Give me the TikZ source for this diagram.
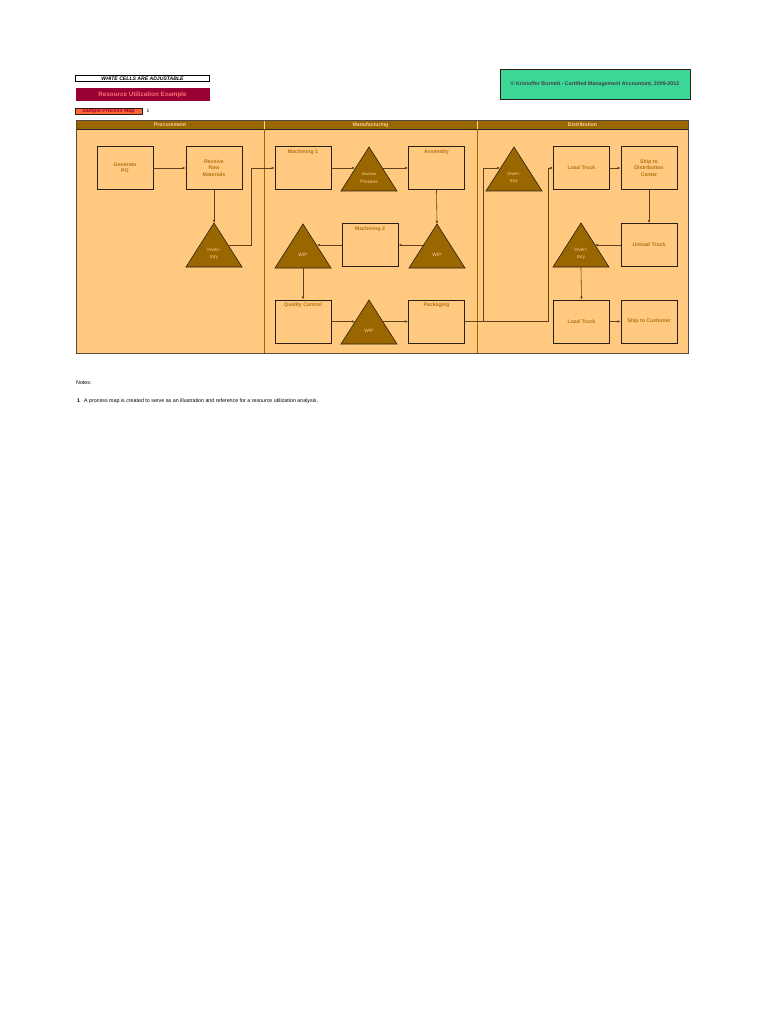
\documentclass[tikz,border=0pt]{standalone}
\usepackage{fontspec}
\setmainfont{Liberation Sans}
\usetikzlibrary{arrows.meta}
\definecolor{lane}{RGB}{255,201,128}
\definecolor{brownhdr}{RGB}{153,102,0}
\definecolor{tanc}{RGB}{255,210,150}
\definecolor{lbl}{RGB}{180,115,20}
\definecolor{wine}{RGB}{153,0,51}
\definecolor{salmon}{RGB}{255,110,110}
\definecolor{orangered}{RGB}{255,102,51}
\definecolor{mint}{RGB}{60,215,150}
\definecolor{conn}{RGB}{95,65,30}
\definecolor{edge}{RGB}{40,30,20}
\tikzset{
  procbox/.style={draw=edge, line width=0.8pt, fill=lane, minimum width=56pt, minimum height=43pt, inner sep=0pt,
    font=\fontsize{5.2}{6.3}\selectfont\bfseries, text=lbl, align=center},
  toplbl/.style={font=\fontsize{5.2}{6}\selectfont\bfseries, text=lbl, anchor=north, inner sep=0pt, yshift=-3pt},
  tritext/.style={font=\fontsize{4.8}{7.5}\selectfont, text=tanc, align=center, inner sep=0pt},
  conline/.style={draw=conn, line width=0.6pt},
  arr/.style={conline, -{Latex[length=3pt,width=2.6pt]}},
  hdrtext/.style={font=\fontsize{5.2}{6}\selectfont\bfseries, text=tanc, inner sep=0pt, anchor=base},
  tri/.pic={
    \draw[draw=edge, line width=0.6pt, fill=brownhdr] (0,0) -- (28,44) -- (-28,44) -- cycle;
    \coordinate (-t) at (0,0);
    \coordinate (-l) at (-14,22);
    \coordinate (-r) at (14,22);
    \coordinate (-b) at (0,44);
    \node[tritext] (-c) at (0,31) {#1};
  }
}
\begin{document}
\begin{tikzpicture}[x=1pt,y=-1pt]
\useasboundingbox[fill=white] (0,0) rectangle (768,1024);

% top-left header cells
\node[draw=black, line width=0.6pt, fill=white, minimum width=134pt, minimum height=6pt, inner sep=0pt,
  font=\fontsize{5.1}{5}\selectfont\bfseries\itshape] (white) at (142.5,78.5) {WHITE CELLS ARE ADJUSTABLE};
\node[fill=wine, minimum width=134pt, minimum height=13pt, inner sep=0pt,
  font=\fontsize{6.3}{6}\selectfont\bfseries, text=salmon] (title) at (142.5,94.5) {Resource Utilization Example};
\node[draw=edge, line width=0.5pt, fill=orangered, minimum width=67pt, minimum height=6pt, inner sep=0pt,
  font=\fontsize{5.2}{5}\selectfont\bfseries, text=wine] (sample) at (108.5,111.5) {Sample Process Map};
\node[font=\fontsize{4.8}{5}\selectfont, inner sep=0pt] (one) at (148,111) {1};

% copyright
\node[draw=edge, line width=0.8pt, fill=mint, minimum width=190pt, minimum height=30pt, inner sep=0pt,
  font=\fontsize{5.3}{5}\selectfont\bfseries, text=black!75] (copy) at (595,84) {© Kristoffer Burnett - Certified Management Accountant, 2009-2012};

% swimlanes
\fill[lane] (76,129) rectangle (688,353);
\draw[fill=brownhdr, draw=edge, line width=0.6pt] (76,120) rectangle (688,129);
\draw[tanc, line width=0.6pt] (264,120) -- (264,129);
\draw[tanc, line width=0.6pt] (477,120) -- (477,129);
\draw[brownhdr, line width=0.7pt] (264,129) -- (264,353);
\draw[brownhdr, line width=0.7pt] (477,129) -- (477,353);
\draw[draw=edge!80, line width=0.8pt] (76,120) rectangle (688,353);
\node[hdrtext] (h1) at (170,126.4) {Procurement};
\node[hdrtext] (h2) at (370.5,126.4) {Manufacturing};
\node[hdrtext] (h3) at (582.5,126.4) {Distribution};

% boxes
\node[procbox] (gen) at (125,168) {Generate\\PO};
\node[procbox] (recv) at (214,168) {Receive\\Raw\\Materials};
\node[procbox, label={[toplbl]north:Machining 1}] (m1) at (303,168) {};
\node[procbox, label={[toplbl]north:Assembly}] (asm) at (436.5,168) {};
\node[procbox, label={[toplbl]north:Machining 2}] (m2) at (370,245) {};
\node[procbox, label={[toplbl]north:Quality Control}] (qc) at (303,321.5) {};
\node[procbox, label={[toplbl]north:Packaging}] (pkg) at (436.5,321.5) {};
\node[procbox] (lt1) at (581.5,168) {Load Truck};
\node[procbox] (ship) at (649,168) {Ship to\\Distribution\\Center};
\node[procbox] (unl) at (649,245) {Unload Truck};
\node[procbox] (lt2) at (581.5,321.5) {Load Truck};
\node[procbox] (cust) at (649,321.5) {Ship to Customer};

% triangles
\pic (inv1) at (214,223) {tri={Inven-\\tory}};
\pic (mp) at (369,147) {tri={\fontsize{3.8}{6}\selectfont Machine\\Process}};
\pic (wipr) at (437,224) {tri={WIP}};
\pic (wipl) at (303,224) {tri={WIP}};
\pic (wipb) at (369,300) {tri={WIP}};
\pic (inv2) at (514,147) {tri={Inven-\\tory}};
\pic (inv3) at (581,223) {tri={Inven-\\tory}};

% connectors
\draw[arr] (gen.east) -- (recv.west);
\draw[arr] (recv.south) -- (inv1-t);
\draw[arr] (inv1-r) -| ([xshift=-23pt]m1.west) -- (m1.west);
\draw[arr] (m1.east) -- (mp-l |- m1.east);
\draw[arr] (mp-r |- asm.west) -- (asm.west);
\draw[arr] (asm.south) -- (wipr-t);
\draw[arr] (wipr-l |- m2.east) -- (m2.east);
\draw[arr] (m2.west) -- (wipl-r |- m2.west);
\draw[arr] (wipl-b) -- (qc.north);
\draw[arr] (qc.east) -- (wipb-l |- qc.east);
\draw[arr] (wipb-r |- pkg.west) -- (pkg.west);
\draw[arr] (pkg.east) -- ++(18,0) |- (inv2-l |- lt1.west);
\draw[arr] (pkg.east) -- ++(83,0) |- (lt1.west);
\draw[arr] (lt1.east) -- (ship.west);
\draw[arr] (ship.south) -- (unl.north);
\draw[arr] (unl.west) -- (inv3-r |- unl.west);
\draw[arr] (inv3-b) -- (lt2.north);
\draw[arr] (lt2.east) -- (cust.west);

% notes
\node[font=\fontsize{5.3}{6}\selectfont, anchor=west, inner sep=0pt] (notes) at (76,383) {Notes:};
\node[font=\fontsize{5.3}{6}\selectfont\bfseries, anchor=west, inner sep=0pt] (n1) at (77,401) {1};
\node[font=\fontsize{5.3}{6}\selectfont, anchor=west, inner sep=0pt] (n1t) at (84,401) {A process map is created to serve as an illustration and reference for a resource utilization analysis.};
\end{tikzpicture}
\end{document}
